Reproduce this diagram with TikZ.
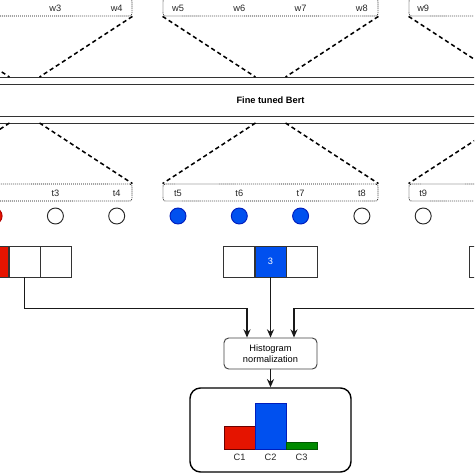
\documentclass[tikz,border=0pt]{standalone}
\usepackage{fontspec}
\setmainfont{Liberation Sans}
\usetikzlibrary{
  arrows.meta,
  positioning,
  calc
}
\definecolor{TokBlue}{HTML}{0050EF}
\definecolor{TokBlueLine}{HTML}{001DBC}
\definecolor{TokRed}{HTML}{E51400}
\definecolor{TokRedLine}{HTML}{B20000}
\definecolor{BarGreen}{HTML}{008A00}
\definecolor{BarGreenLine}{HTML}{005700}
\definecolor{EdgeGrey}{HTML}{333333}
\tikzset{
  % Dotted window around words / tokens
  win/.style={
    rectangle, rounded corners=2pt,
    draw=black, densely dotted, line width=0.7pt,
    minimum width=6.45cm, minimum height=0.51cm, inner sep=0
  },
  % Word / token label
  lbl/.style={font=\fontsize{7.9}{9}\selectfont, text=black!85, inner sep=1pt},
  % Dashed spreading line
  spread/.style={dashed, dash pattern=on 3.6pt off 2.6pt, line width=1.3pt},
  % Bert band (inner box, the outer frame is drawn round it)
  bertbox/.style={
    rectangle, draw=EdgeGrey, line width=0.8pt,
    minimum width=30cm, minimum height=0.96cm, outer sep=0,
    font=\fontsize{7.9}{9}\selectfont\bfseries
  },
  % Token dots
  tokdot/.style={circle, draw=black!85, fill=white, line width=0.8pt, minimum size=0.48cm, inner sep=0},
  reddot/.style={tokdot, fill=TokRed, draw=TokRedLine},
  bluedot/.style={tokdot, fill=TokBlue, draw=TokBlueLine},
  % Count cell
  cell/.style={
    rectangle, draw=EdgeGrey, fill=white, line width=0.8pt,
    minimum size=0.93cm, inner sep=0,
    font=\fontsize{7.9}{9}\selectfont, text=white
  },
  % Process box
  histbox/.style={
    rectangle, rounded corners=4pt, draw=black!75, line width=0.8pt,
    minimum width=2.79cm, minimum height=0.93cm,
    align=center, font=\fontsize{7.9}{9.4}\selectfont
  },
  % Result frame
  resbox/.style={
    rectangle, rounded corners=9pt, draw=black, line width=1.2pt,
    minimum width=4.83cm, minimum height=2.52cm
  },
  % Histogram bar
  bar/.style={rectangle, draw=black!80, line width=0.6pt, minimum width=0.93cm, inner sep=0, anchor=south},
  % Arrow
  flow/.style={-{Stealth[length=7pt,width=6pt]}, line width=1.1pt, color=black!90}
}

\begin{document}
\begin{tikzpicture}[x=0.03cm, y=-0.03cm]
  \clip (0,0) rectangle (474,474);

  % Windows of words and tokens
  \node[win] (wwin1) at (24.5,7.5)   {};
  \node[win] (wwin2) at (270.5,7.5)  {};
  \node[win] (wwin3) at (516.5,7.5)  {};
  \node[win] (twin1) at (24.5,192.5) {};
  \node[win] (twin2) at (270.5,192.5){};
  \node[win] (twin3) at (516.5,192.5){};
  \foreach \i in {3,...,9} {
    \node[lbl] (w\i) at ({178+(\i-5)*61.3},8)   {w\i};
    \node[lbl] (t\i) at ({178+(\i-5)*61.3},193) {t\i};
  }

  \node[bertbox] (bert) at (270.5,100) {Fine tuned Bert};
  \draw[EdgeGrey, line width=0.8pt] ($(bert.north west)+(0,-7)$) rectangle ($(bert.south east)+(0,7)$);

  \foreach \k in {1,2,3} {
    \draw[spread] (wwin\k.south west) -- ($(wwin\k.south |- bert.north)+(-15,-7)$);
    \draw[spread] (wwin\k.south east) -- ($(wwin\k.south |- bert.north)+(15,-7)$);
    \draw[spread] ($(twin\k.north |- bert.south)+(-15,7)$) -- (twin\k.north west);
    \draw[spread] ($(twin\k.north |- bert.south)+(15,7)$)  -- (twin\k.north east);
  }

  % Token dots
  \foreach \i/\s in {2/reddot,3/tokdot,4/tokdot,5/bluedot,6/bluedot,7/bluedot,8/tokdot,9/tokdot}
    \node[\s] (d\i) at ({178+(\i-5)*61.3},216) {};

  % Counts per window
  \node[cell] (g1b) at (24.5,261.5) {};
  \node[cell, fill=TokRed, left=0pt of g1b] (g1a) {};
  \node[cell, right=0pt of g1b] (g1c) {};
  \node[cell, fill=TokBlue] (g2b) at (270.5,261.5) {3};
  \node[cell, left=0pt of g2b]  (g2a) {};
  \node[cell, right=0pt of g2b] (g2c) {};
  \node[cell] (g3b) at (516.5,261.5) {};
  \node[cell, left=0pt of g3b]  (g3a) {};
  \node[cell, right=0pt of g3b] (g3c) {};

  \node[histbox] (hist) at (270.5,353.5) {Histogram\\normalization};
  \node[resbox]  (res)  at (270.5,430)   {};

  \draw[flow] (g1b.south) -- ++(0,31) -| ($(hist.north)+(-23.5,0)$);
  \draw[flow] (g2b) -- (hist);
  \draw[flow] (g3b.south) -- ++(0,31) -| ($(hist.north)+(23.5,0)$);
  \draw[flow] (hist) -- (res);

  % Histogram
  \node[bar, fill=TokRed,   draw=TokRedLine!60!black,  minimum height=0.69cm] (c1) at (239.5,450) {};
  \node[bar, fill=TokBlue,  draw=TokBlueLine,          minimum height=1.38cm] (c2) at (270.5,450) {};
  \node[bar, fill=BarGreen, draw=BarGreenLine,         minimum height=0.21cm] (c3) at (301.5,450) {};
  \node[lbl, below=2pt of c1] (c1lbl) {C1};
  \node[lbl, below=2pt of c2] (c2lbl) {C2};
  \node[lbl, below=2pt of c3] (c3lbl) {C3};
\end{tikzpicture}
\end{document}
